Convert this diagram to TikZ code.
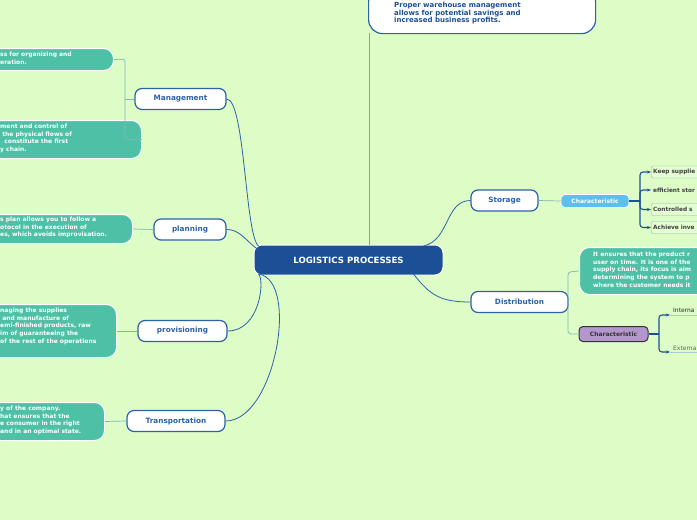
\documentclass[tikz,border=0pt]{standalone}
\usepackage{fontspec}
\setmainfont{DejaVu Sans}
\usetikzlibrary{arrows.meta}
\definecolor{bg}{HTML}{DDFCC6}
\definecolor{dblue}{HTML}{1C5096}
\definecolor{mblue}{HTML}{2B62A8}
\definecolor{teal}{HTML}{4DC0A6}
\definecolor{lblue}{HTML}{5BC0EB}
\definecolor{purp}{HTML}{B296CC}
\definecolor{lnk}{HTML}{7FB8B8}
\tikzset{
  x=1pt,y=-1pt,
  br/.style={draw=mblue,line width=1.2pt,fill=white,rounded corners=7pt,font=\fontsize{7.3}{8}\selectfont\bfseries,text=mblue,minimum height=21pt,inner sep=2pt},
  leaf/.style={draw=white,line width=1pt,fill=teal,rounded corners=10pt,anchor=north west,inner sep=0pt},
  ltxt/.style={font=\fontsize{6}{7.6}\selectfont\bfseries,text=white,align=left,anchor=north west,inner sep=0pt},
  con/.style={draw=mblue,line width=0.8pt},
  thin/.style={draw=lnk,line width=0.7pt},
  itm/.style={draw=lnk,fill=bg!80!white,rounded corners=2pt,font=\fontsize{5.8}{6}\selectfont\bfseries,text=black!75,anchor=west,inner sep=2pt,minimum height=12pt,text width=60pt},
  arr/.style={draw=dblue,line width=1.1pt,-{Stealth[length=4pt]}},
}
\begin{document}
\begin{tikzpicture}
\fill[bg] (0,0) rectangle (697,520);
\useasboundingbox (0,0) rectangle (697,520);
\clip (0,0) rectangle (697,520);
% central
\node[draw=white,line width=1pt,fill=dblue,rounded corners=8pt,minimum width=189pt,minimum height=30pt,text=white,font=\fontsize{8.6}{9}\selectfont\bfseries] (c) at (348.5,260) {LOGISTICS PROCESSES};
% top box
\node[draw=mblue,line width=1.2pt,fill=white,rounded corners=14pt,minimum width=227pt,minimum height=46pt,anchor=north west,inner sep=0pt] (top) at (368,-13) {};
\node[font=\fontsize{7}{7.6}\selectfont\bfseries,text=dblue,align=left,anchor=north west,inner sep=0pt] (toptxt) at (394,2) {Proper warehouse management\\allows for potential savings and\\increased business profits.};
\draw[thin,draw=mblue!60] (369,245) -- (369,33);
% branches
\node[br,minimum width=91pt] (man) at (180.5,99) {Management};
\node[br,minimum width=72pt] (pla) at (190,229.5) {planning};
\node[br,minimum width=89pt] (pro) at (182.5,331) {provisioning};
\node[br,minimum width=98pt] (tra) at (176,421) {Transportation};
\node[br,minimum width=67pt] (sto) at (504.5,200.5) {Storage};
\node[br,minimum width=97pt] (dis) at (519.5,302) {Distribution};
\draw[con] (c.west) ++(5,-14) .. controls (245,235) and (245,99) .. (man.east);
\draw[con] (c.west) ++(5,-10) .. controls (245,240) and (240,229.5) .. (pla.east);
\draw[con] (c.west) ++(5,14) .. controls (265,280) and (260,331) .. (pro.east);
\draw[con] (c.west) ++(5,14) .. controls (300,280) and (275,421) .. (tra.east);
\draw[con] (c.east) ++(-20,-14) .. controls (450,240) and (445,200.5) .. (sto.west);
\draw[con] (c.east) ++(-30,14) .. controls (430,295) and (440,302) .. (dis.west);
% leaves left
\node[leaf,minimum width=123pt,minimum height=22pt] (l1) at (-10,48) {};
\node[ltxt] (t1) at (0,52) {ss for organizing and\\eration.};
\node[leaf,minimum width=151pt,minimum height=38pt] (l2) at (-10,120) {};
\node[ltxt] (t2) at (0,124) {ment and control of\\\ the physical flows of\\\ \ constitute the first\\y chain.};
\node[leaf,minimum width=142pt,minimum height=29pt] (l3) at (-10,214) {};
\node[ltxt] (t3) at (0,217) {s plan allows you to follow a\\otocol in the execution of\\es, which avoids improvisation.};
\node[leaf,minimum width=126pt,minimum height=53pt] (l4) at (-10,304) {};
\node[ltxt] (t4) at (0,308) {naging the supplies\\\ and manufacture of\\emi-finished products, raw\\im of guaranteeing the\\of the rest of the operations};
\node[leaf,minimum width=114pt,minimum height=38pt] (l5) at (-10,402) {};
\node[ltxt] (t5) at (0,406) {y of the company.\\hat ensures that the\\e consumer in the right\\and in an optimal state.};
\draw[thin] (man.west) -- (125,99);
\draw[thin,rounded corners=3pt] (l1.east) -- (125,59) -- (125,139) -- (l2.east);
\draw[thin] (pla.west) -- (l3.east);
\draw[thin] (pro.west) -- (l4.east);
\draw[thin] (tra.west) -- (l5.east);
% storage
\node[draw=white,line width=0.8pt,fill=lblue,rounded corners=4pt,minimum width=68pt,minimum height=13pt,inner sep=1pt,font=\fontsize{6}{6}\selectfont\bfseries,text=white] (sc) at (595,201) {Characteristic};
\draw[thin] (sto.east) -- (sc.west);
\node[itm] (s1) at (651,172) {Keep supplie};
\node[font=\fontsize{5.8}{6}\selectfont\bfseries,text=black!75,anchor=west,inner sep=2pt] (s2) at (651,190) {efficient stor};
\node[itm] (s3) at (651,209.5) {Controlled s};
\node[itm] (s4) at (651,227.5) {Achieve inve};
\coordinate (sj) at (640,201);
\draw[dblue,line width=1.3pt] (sc.east) -- (sj);
\foreach \t in {s1,s2,s3,s4}{\draw[arr,rounded corners=3pt] (sj) |- (\t.west);}
% distribution
\node[leaf,minimum width=140pt,minimum height=47pt] (dl) at (579,247) {};
\node[ltxt] (dt) at (593,252) {It ensures that the product r\\user on time. It is one of the\\supply chain, its focus is aim\\determining the system to p\\where the customer needs it};
\node[draw=black!80,line width=1pt,fill=purp,rounded corners=4pt,minimum width=69pt,minimum height=15pt,inner sep=1pt,font=\fontsize{6}{6}\selectfont\bfseries,text=black!80] (dc) at (613.5,334) {Characteristic};
\draw[thin,rounded corners=3pt] (dis.east) -- (568,302);
\draw[thin,rounded corners=3pt] (dl.west) -- (568,272) -- (568,334) -- (dc.west);
\node[font=\fontsize{6}{6}\selectfont,text=black!85,anchor=south west,inner sep=1pt] (d1) at (672,314) {Interna};
\node[font=\fontsize{6}{6}\selectfont,text=black!60,anchor=south west,inner sep=1pt] (d2) at (672,352) {Externa};
\draw[lnk!70,line width=1pt] (670,315) -- (697,315) (670,352) -- (697,352);
\coordinate (dj) at (659,334);
\draw[dblue,line width=1.3pt] (dc.east) -- (dj);
\draw[arr,rounded corners=3pt] (dj) |- (670,315);
\draw[arr,rounded corners=3pt] (dj) |- (670,352);
\end{tikzpicture}
\end{document}
